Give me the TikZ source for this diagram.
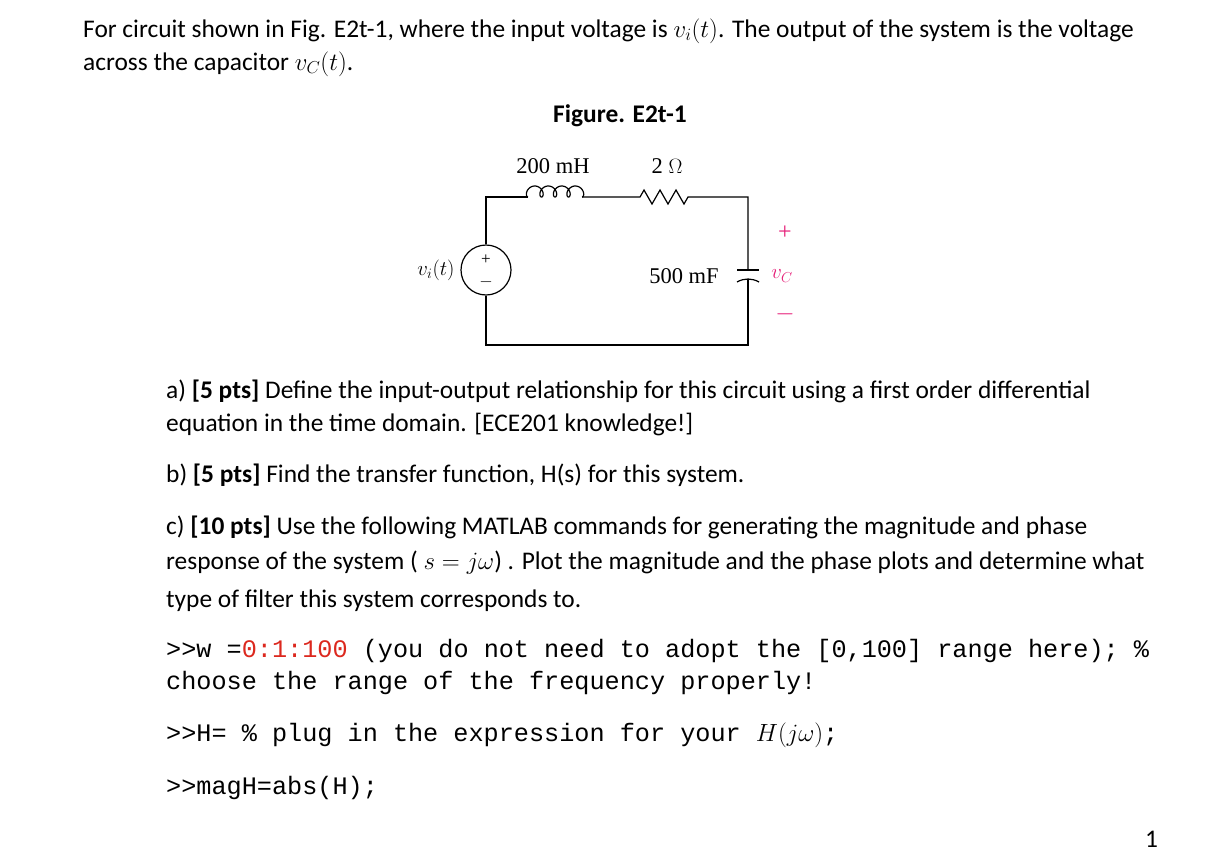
\documentclass[tikz,border=0pt]{standalone}
\usepackage{fontspec}
\setmainfont{Carlito}
\newfontfamily\codefont{Liberation Mono}
\newfontfamily\serifb{Liberation Serif}
\definecolor{pinkc}{RGB}{230,30,120}
\definecolor{codered}{RGB}{220,40,30}
\begin{document}
\begin{tikzpicture}[x=1pt,y=-1pt,
  txt/.style={anchor=base west,inner sep=0,font=\fontsize{25.4}{28}\selectfont},
  code/.style={anchor=base west,inner sep=0,font=\fontsize{25.2}{28}\codefont},
  lab/.style={inner sep=0,font=\fontsize{22.5}{24}\serifb},
  wire/.style={line width=1.2pt}]
\useasboundingbox[fill=white] (0,0) rectangle (1222,862);
\node[txt] (t1) at (83,37) {For circuit shown in Fig. E2t-1, where the input voltage is $v_i(t)$. The output of the system is the voltage};
\node[txt] (t2) at (83,70) {across the capacitor $v_C(t)$.};
\node[txt,anchor=base] (fig) at (620,122) {\bfseries Figure. E2t-1};
% circuit
\coordinate (tl) at (486,197); \coordinate (tr) at (748,197);
\coordinate (bl) at (486,345); \coordinate (br) at (748,345);
\node[circle,draw,line width=1.2pt,minimum size=50,inner sep=0] (src) at (486,270) {};
\node[lab] at (486,260) {\fontsize{17}{17}\selectfont +};
\node[lab] at (486,282) {\fontsize{17}{17}\selectfont $-$};
\coordinate (l1) at (528,197); \coordinate (l2) at (582,197);
\coordinate (r1) at (640,197); \coordinate (r2) at (696,197);
\draw[wire] (src.north) -- (tl) -- (l1);
\draw[wire] plot[domain=0:25.13,samples=160,smooth] ({528+2.15*\x-4.5*sin(\x r)},{197-5.5*(1-cos(\x r))});
\draw[wire] (l2) -- (r1) -- ++(4,-7) -- ++(8,14) -- ++(8,-14) -- ++(8,14) -- ++(8,-14) -- ++(8,14) -- ++(4,-7) -- (r2) -- (tr) -- (748,270);
\draw[wire] (737,270) -- (759,270);
\draw[wire] (737,282) .. controls (744,278) and (752,278) .. (759,282);
\draw[wire] (748,279) -- (br) -- (bl) -- (src.south);
\node[lab] (lL) at (553,166) {200 mH};
\node[lab] (lR) at (667,166) {2 $\Omega$};
\node[lab] (lC) at (684,276) {500 mF};
\node[lab] (lv) at (436,270) {$v_i(t)$};
\node[lab,text=pinkc] (pp) at (785,233) {\fontsize{24}{24}\selectfont +};
\node[lab,text=pinkc] (pv) at (782,276) {$v_C$};
\node[lab,text=pinkc] (pm) at (785,314) {\fontsize{24}{24}\selectfont $-$};
% questions
\node[txt] (qa) at (166,398) {a) \textbf{[5 pts]} Define the input-output relationship for this circuit using a first order differential};
\node[txt] (qa2) at (166,431) {equation in the time domain. [ECE201 knowledge!]};
\node[txt] (qb) at (166,482) {b) \textbf{[5 pts]} Find the transfer function, H(s) for this system.};
\node[txt] (qc) at (166,534) {c) \textbf{[10 pts]} Use the following MATLAB commands for generating the magnitude and phase};
\node[txt] (qc2) at (166,569) {response of the system ( $s=j\omega$) . Plot the magnitude and the phase plots and determine what};
\node[txt] (qc3) at (166,607) {type of filter this system corresponds to.};
\node[code] (c1) at (166,657) {>>w =\textcolor{codered}{0:1:100} (you do not need to adopt the [0,100] range here); \%};
\node[code] (c2) at (166,689) {choose the range of the frequency properly!};
\node[code] (c3) at (166,741) {>>H= \% plug in the expression for your {\fontsize{27}{27}$H(j\omega)$};};
\node[code] (c4) at (166,794) {>>magH=abs(H);};
\node[txt] (pg) at (1145,847) {1};
\end{tikzpicture}
\end{document}
